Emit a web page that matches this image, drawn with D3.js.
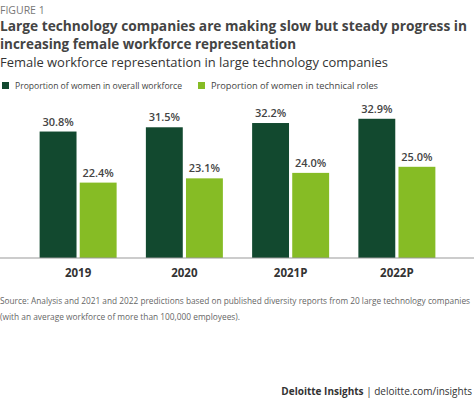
<!DOCTYPE html>
<html><head><meta charset="utf-8">
<script src="https://cdn.jsdelivr.net/npm/d3@7"></script>
<style>body{margin:0;background:#fff}text{font-family:"Open Sans",sans-serif}</style>
</head><body><svg id="c" width="474" height="402"></svg>
<script>
const years = ['2019', '2020', '2021P', '2022P'];
const overall = [30.8, 31.5, 32.2, 32.9];
const technical = [22.4, 23.1, 24.0, 25.0];
const seriesNames = ['Proportion of women in overall workforce', 'Proportion of women in technical roles'];
const colors = ['#12492f', '#86bc25'];

const svg = d3.select('#c');
const txt = (x, y, s, size, fill, weight, len) => {
  const t = svg.append('text')
    .attr('x', x).attr('y', y).attr('font-size', size).attr('fill', fill)
    .attr('font-weight', weight || 400).text(s);
  if (len) t.attr('textLength', len).attr('lengthAdjust', 'spacingAndGlyphs');
  return t;
};

txt(0, 14, 'FIGURE 1', 10.5, '#777');
txt(0, 31, 'Large technology companies are making slow but steady progress in', 14.5, '#444', 700, 467);
txt(0, 49, 'increasing female workforce representation', 14.5, '#444', 700, 296);
txt(0, 67, 'Female workforce representation in large technology companies', 12, '#333', 400, 388);

// legend
[0, 1].forEach(i => {
  const lx = i ? 198 : 2;
  svg.append('rect').attr('x', lx).attr('y', 82).attr('width', 7).attr('height', 7).attr('fill', colors[i]);
  txt(lx + 13, 89, seriesNames[i], 9.5, '#444', 400, i ? 167 : 167);
});

const x = d3.scaleBand().domain(years).range([25, 450]);
const inner = d3.scaleBand().domain([0, 1]).range([0, 77]).paddingInner(0.08);
const y = d3.scaleLinear().domain([10, 35]).range([258, 106]);

const g = svg.append('g');
years.forEach((yr, i) => {
  const x0 = x(yr) + x.bandwidth() / 2 - 38.5;
  [overall[i], technical[i]].forEach((v, j) => {
    const bx = x0 + inner(j);
    g.append('rect').attr('x', bx).attr('y', y(v)).attr('width', inner.bandwidth())
      .attr('height', y(10) - y(v)).attr('fill', colors[j]);
    g.append('text').attr('x', bx + inner.bandwidth() / 2).attr('y', y(v) - 6)
      .attr('text-anchor', 'middle').attr('font-size', 11).attr('font-weight', 600)
      .attr('fill', '#444').text(v.toFixed(1) + '%');
  });
});

svg.append('line').attr('x1', 0).attr('x2', 474).attr('y1', y(10)).attr('y2', y(10))
  .attr('stroke', '#999').attr('stroke-width', 1);

const axis = svg.append('g').attr('transform', `translate(0,${y(10)})`)
  .call(d3.axisBottom(x).tickSize(0).tickPadding(11));
axis.select('.domain').remove();
axis.selectAll('text').attr('font-size', 11.5).attr('font-weight', 700).attr('fill', '#333')
  .attr('font-family', '"Open Sans",sans-serif');

txt(0, 304, 'Source: Analysis and 2021 and 2022 predictions based on published diversity reports from 20 large technology companies', 9.3, '#666', 400, 470);
txt(0, 320, '(with an average workforce of more than 100,000 employees).', 9.3, '#666', 400, 240);

const f = svg.append('text').attr('x', 472).attr('y', 395).attr('text-anchor', 'end')
  .attr('font-size', 10).attr('fill', '#333');
f.append('tspan').attr('font-weight', 700).text('Deloitte Insights');
f.append('tspan').text(' | deloitte.com/insights');
</script></body></html>
